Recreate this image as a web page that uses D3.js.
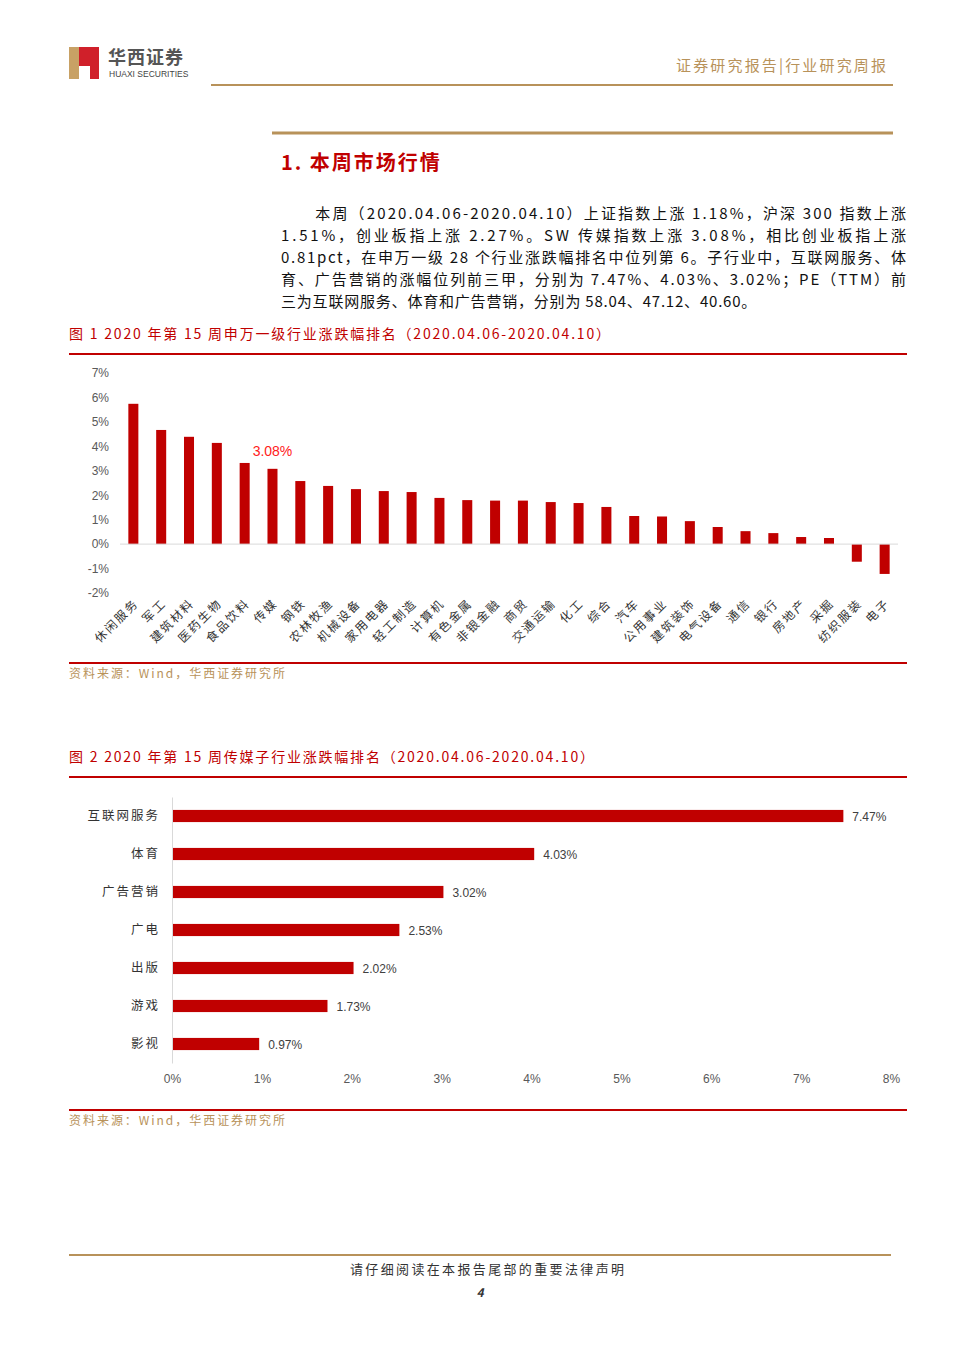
<!DOCTYPE html>
<html><head><meta charset="utf-8">
<script src="https://cdn.jsdelivr.net/npm/d3@7"></script>
<style>body{margin:0;background:#fff}svg{display:block;font-family:"Noto Sans CJK SC","Liberation Sans",sans-serif}</style>
</head><body><svg></svg>
<script>
const width = 960, height = 1357;
const svg = d3.select("svg").attr("width", width).attr("height", height);
const red = "#c00000";

// chart 1 data
const industries = ["休闲服务","军工","建筑材料","医药生物","食品饮料","传媒","钢铁","农林牧渔","机械设备","家用电器","轻工制造","计算机","有色金属","非银金融","商贸","交通运输","化工","综合","汽车","公用事业","建筑装饰","电气设备","通信","银行","房地产","采掘","纺织服装","电子"];
const industryChange = [5.74,4.67,4.39,4.14,3.32,3.08,2.58,2.38,2.25,2.17,2.13,1.89,1.80,1.78,1.78,1.72,1.68,1.52,1.15,1.13,0.94,0.70,0.53,0.45,0.29,0.25,-0.72,-1.22];
const yTicks1 = [-2,-1,0,1,2,3,4,5,6,7];

// chart 2 data
const mediaSubs = ["互联网服务","体育","广告营销","广电","出版","游戏","影视"];
const mediaChange = [7.47,4.03,3.02,2.53,2.02,1.73,0.97];
const xTicks2 = [0,1,2,3,4,5,6,7,8];

// header
svg.append("rect").attr("x",69).attr("y",47).attr("width",10).attr("height",32).attr("fill","#c8a165");
svg.append("path").attr("d","M79,47 L99,47 L99,79 L90,79 L90,66 L79,66 Z").attr("fill","#d0202a");
svg.append("text").attr("x",108).attr("y",64).attr("font-size",18).attr("font-weight","bold").attr("fill","#555").attr("letter-spacing",1).text("华西证券");
svg.append("text").attr("x",109).attr("y",77).attr("font-size",8.5).attr("fill","#444").attr("font-family","Liberation Sans").text("HUAXI SECURITIES");
svg.append("text").attr("x",676).attr("y",71).attr("font-size",15).attr("fill","#b8925a").attr("textLength",210).text("证券研究报告|行业研究周报");
svg.append("line").attr("x1",211).attr("x2",893).attr("y1",85).attr("y2",85).attr("stroke","#b8925a").attr("stroke-width",2);
svg.append("line").attr("x1",272).attr("x2",893).attr("y1",133).attr("y2",133).attr("stroke","#b8925a").attr("stroke-width",3);
svg.append("text").attr("x",281).attr("y",170).attr("font-size",20).attr("font-weight","bold").attr("fill",red).attr("letter-spacing",2).text("1. 本周市场行情");

const para = [
  ["　　本周（2020.04.06-2020.04.10）上证指数上涨 1.18%，沪深 300 指数上涨", 301],
  ["1.51%，创业板指上涨 2.27%。SW 传媒指数上涨 3.08%，相比创业板指上涨", 281],
  ["0.81pct，在申万一级 28 个行业涨跌幅排名中位列第 6。子行业中，互联网服务、体", 281],
  ["育、广告营销的涨幅位列前三甲，分别为 7.47%、4.03%、3.02%；PE（TTM）前", 281],
  ["三为互联网服务、体育和广告营销，分别为 58.04、47.12、40.60。", null]
];
para.forEach((p,i)=>{
  const t = svg.append("text").attr("x",281).attr("y",219+i*22).attr("font-size",15).attr("fill","#111").text(p[0]);
  if (p[1]) t.attr("textLength",906-281).attr("lengthAdjust","spacing");
  else t.attr("letter-spacing",0.8);
});

// chart 1
svg.append("text").attr("x",69).attr("y",339).attr("font-size",14).attr("fill",red).attr("textLength",541).text("图 1 2020 年第 15 周申万一级行业涨跌幅排名（2020.04.06-2020.04.10）");
svg.append("line").attr("x1",69).attr("x2",907).attr("y1",354).attr("y2",354).attr("stroke",red).attr("stroke-width",2);
const x1 = d3.scaleBand().domain(industries).range([120,898]).paddingInner(0.64).paddingOuter(0.3);
const y1 = d3.scaleLinear().domain([-2,7]).range([593,373]);
const g1 = svg.append("g");
g1.selectAll("rect").data(industries).join("rect")
  .attr("x",d=>x1(d)).attr("width",x1.bandwidth())
  .attr("y",(d,i)=>y1(Math.max(0,industryChange[i])))
  .attr("height",(d,i)=>Math.abs(y1(industryChange[i])-y1(0)))
  .attr("fill",red);
g1.append("line").attr("x1",120).attr("x2",898).attr("y1",y1(0)).attr("y2",y1(0)).attr("stroke","#d9d9d9");
const ay1 = g1.append("g").attr("transform","translate(112,0)")
  .call(d3.axisLeft(y1).tickValues(yTicks1).tickFormat(d=>d+"%").tickSize(0));
ay1.select(".domain").remove();
ay1.selectAll("text").attr("font-size",12).attr("fill","#595959").attr("font-family","Liberation Sans");
g1.selectAll(".xl").data(industries).join("text").attr("class","xl")
  .attr("transform",d=>`translate(${x1(d)+x1.bandwidth()/2+6},${604}) rotate(-45)`)
  .attr("text-anchor","end").attr("font-size",12).attr("letter-spacing",2).attr("fill","#333").text(d=>d);
const i6 = industries.indexOf("传媒");
svg.append("text").attr("x",x1("传媒")+x1.bandwidth()/2).attr("y",y1(industryChange[i6])-13)
  .attr("text-anchor","middle").attr("font-size",14).attr("fill","#ff2020").attr("font-family","Liberation Sans").text("3.08%");
svg.append("line").attr("x1",69).attr("x2",907).attr("y1",663).attr("y2",663).attr("stroke",red).attr("stroke-width",2);
svg.append("text").attr("x",69).attr("y",678).attr("font-size",12).attr("fill","#b8925a").attr("textLength",216).text("资料来源：Wind，华西证券研究所");

// chart 2
svg.append("text").attr("x",69).attr("y",762).attr("font-size",14).attr("fill",red).attr("textLength",525).text("图 2 2020 年第 15 周传媒子行业涨跌幅排名（2020.04.06-2020.04.10）");
svg.append("line").attr("x1",69).attr("x2",907).attr("y1",777).attr("y2",777).attr("stroke",red).attr("stroke-width",2);
const x2 = d3.scaleLinear().domain([0,8]).range([172,891]);
const y2 = d3.scaleBand().domain(mediaSubs).range([797,1063]).paddingInner(0.68).paddingOuter(0.34);
const g2 = svg.append("g");
g2.selectAll("rect").data(mediaSubs).join("rect")
  .attr("x",x2(0)).attr("y",d=>y2(d)).attr("height",y2.bandwidth())
  .attr("width",(d,i)=>x2(mediaChange[i])-x2(0)).attr("fill",red);
g2.selectAll(".vl").data(mediaSubs).join("text").attr("class","vl")
  .attr("x",(d,i)=>x2(mediaChange[i])+9).attr("y",d=>y2(d)+y2.bandwidth()/2+4.5)
  .attr("font-size",12).attr("fill","#404040").attr("font-family","Liberation Sans")
  .text((d,i)=>mediaChange[i].toFixed(2)+"%");
const ay2 = g2.append("g").attr("transform",`translate(${x2(0)},0)`).call(d3.axisLeft(y2).tickSize(0).tickPadding(12));
ay2.select(".domain").attr("stroke","#d9d9d9");
ay2.selectAll("text").attr("font-size",12.5).attr("fill","#333").attr("letter-spacing",2).attr("font-family","Noto Sans CJK SC");
const ax2 = g2.append("g").attr("transform","translate(0,1071)").call(d3.axisBottom(x2).tickValues(xTicks2).tickFormat(d=>d+"%").tickSize(0));
ax2.select(".domain").remove();
ax2.selectAll("text").attr("font-size",12).attr("fill","#595959").attr("font-family","Liberation Sans");
svg.append("line").attr("x1",69).attr("x2",907).attr("y1",1110).attr("y2",1110).attr("stroke",red).attr("stroke-width",2);
svg.append("text").attr("x",69).attr("y",1125).attr("font-size",12).attr("fill","#b8925a").attr("textLength",216).text("资料来源：Wind，华西证券研究所");

// footer
svg.append("line").attr("x1",69).attr("x2",891).attr("y1",1255).attr("y2",1255).attr("stroke","#b8925a").attr("stroke-width",2);
svg.append("text").attr("x",350).attr("y",1274).attr("font-size",13).attr("fill","#333").attr("textLength",274).text("请仔细阅读在本报告尾部的重要法律声明");
svg.append("text").attr("x",480).attr("y",1297).attr("text-anchor","middle").attr("font-size",12).attr("font-style","italic").attr("font-weight","bold").attr("fill","#333").text("4");
</script></body></html>
